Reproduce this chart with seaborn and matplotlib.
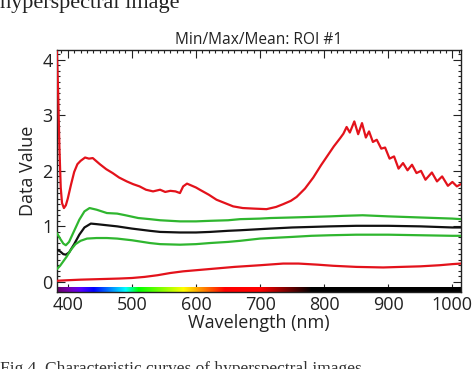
import numpy as np
import pandas as pd
import matplotlib
matplotlib.use("Agg")
import matplotlib.pyplot as plt
from matplotlib.ticker import MultipleLocator
import seaborn as sns

# ---- data ----
max_wl = [383, 385, 387, 389, 391, 394, 397, 400, 405, 410, 415, 420, 427, 433, 439, 445, 450,
          460, 470, 480, 492, 502, 512, 522, 533, 544, 552, 560, 568, 575, 580, 586, 592, 600,
          606, 620, 632, 645, 658, 673, 690, 710, 725, 736, 748, 757, 770, 783, 795, 805, 815,
          825, 830, 835, 840, 847, 853, 859, 865, 870, 876, 882, 889, 895, 902, 909, 916, 923,
          930, 937, 944, 951, 958, 968, 976, 984, 993, 1000, 1007, 1013]
max_val = [4.15, 3.4, 2.4, 1.7, 1.42, 1.33, 1.38, 1.5, 1.75, 1.98, 2.12, 2.18, 2.24, 2.22, 2.23,
           2.17, 2.12, 2.03, 1.96, 1.88, 1.81, 1.76, 1.72, 1.66, 1.63, 1.66, 1.62, 1.64, 1.63,
           1.60, 1.72, 1.77, 1.74, 1.70, 1.66, 1.57, 1.48, 1.42, 1.36, 1.33, 1.32, 1.31, 1.35,
           1.40, 1.46, 1.53, 1.68, 1.88, 2.10, 2.27, 2.44, 2.59, 2.67, 2.79, 2.69, 2.89, 2.66,
           2.86, 2.60, 2.71, 2.52, 2.56, 2.40, 2.42, 2.22, 2.26, 2.04, 2.14, 2.01, 2.11, 1.96,
           2.00, 1.84, 1.97, 1.81, 1.90, 1.73, 1.80, 1.72, 1.76]

hi_wl = [383, 388, 393, 397, 402, 410, 418, 426, 434, 445, 461, 477, 490, 510, 528, 544, 575,
         600, 622, 650, 669, 700, 716, 750, 780, 809, 830, 860, 900, 950, 1000, 1013]
hi_val = [0.88, 0.78, 0.69, 0.66, 0.72, 0.92, 1.12, 1.27, 1.33, 1.30, 1.24, 1.23, 1.20, 1.15,
          1.13, 1.11, 1.09, 1.09, 1.10, 1.11, 1.13, 1.14, 1.15, 1.16, 1.17, 1.18, 1.19, 1.20,
          1.18, 1.16, 1.14, 1.13]

mean_wl = [383, 388, 393, 397, 402, 410, 418, 426, 436, 445, 461, 477, 500, 528, 544, 575, 600,
           622, 650, 669, 700, 716, 750, 780, 809, 850, 900, 950, 1000, 1013]
mean_val = [0.58, 0.55, 0.50, 0.49, 0.53, 0.68, 0.85, 0.98, 1.05, 1.04, 1.02, 1.00, 0.96, 0.92,
            0.90, 0.89, 0.89, 0.90, 0.92, 0.93, 0.95, 0.96, 0.98, 0.99, 1.00, 1.01, 1.01, 1.00,
            0.98, 0.98]

lo_wl = [383, 388, 393, 398, 405, 412, 420, 430, 445, 461, 477, 500, 528, 544, 575, 600, 622,
         650, 669, 700, 716, 750, 780, 809, 850, 900, 950, 1000, 1013]
lo_val = [0.23, 0.29, 0.37, 0.45, 0.58, 0.68, 0.74, 0.78, 0.79, 0.79, 0.78, 0.75, 0.70, 0.68,
          0.67, 0.68, 0.70, 0.72, 0.74, 0.78, 0.79, 0.81, 0.83, 0.84, 0.85, 0.85, 0.84, 0.83, 0.83]

min_wl = [383, 400, 420, 450, 480, 500, 520, 540, 560, 580, 600, 630, 660, 700, 736, 760, 790,
          814, 850, 892, 920, 950, 980, 1000, 1013]
min_val = [0.02, 0.03, 0.04, 0.05, 0.06, 0.07, 0.09, 0.12, 0.16, 0.19, 0.21, 0.24, 0.27, 0.30,
           0.33, 0.33, 0.31, 0.29, 0.27, 0.26, 0.27, 0.28, 0.30, 0.32, 0.33]

x_ticks = [400, 500, 600, 700, 800, 900, 1000]
y_ticks = [0, 1, 2, 3, 4]

series = [("Max", max_wl, max_val), ("Mean+Std", hi_wl, hi_val), ("Mean", mean_wl, mean_val),
          ("Mean-Std", lo_wl, lo_val), ("Min", min_wl, min_val)]
frames = [pd.DataFrame({"Wavelength": w, "Value": v, "Series": n}) for n, w, v in series]
df = pd.concat(frames, ignore_index=True)

RED = "#e3121b"
GREEN = "#2fb62f"
palette = {"Max": RED, "Min": RED, "Mean+Std": GREEN, "Mean-Std": GREEN, "Mean": "#111111"}

sns.set_theme(style="white")
plt.rcParams["font.family"] = ["Open Sans", "DejaVu Sans"]

fig = plt.figure(figsize=(4.74, 3.69), dpi=100)
ax = fig.add_axes([0.120, 0.209, 0.852, 0.656])

xmin, xmax = 383, 1013
ymin, ymax = -0.18, 4.18

# spectral strip along the bottom
def wl_rgb(w):
    if w < 440:
        r, g, b = -(w - 440) / 60, 0.0, 1.0
    elif w < 490:
        r, g, b = 0.0, (w - 440) / 50, 1.0
    elif w < 510:
        r, g, b = 0.0, 1.0, -(w - 510) / 20
    elif w < 580:
        r, g, b = (w - 510) / 70, 1.0, 0.0
    elif w < 645:
        r, g, b = 1.0, -(w - 645) / 65, 0.0
    else:
        r, g, b = 1.0, 0.0, 0.0
    if w < 420:
        f = 0.35 + 0.65 * (w - 380) / 40
    elif w > 700:
        f = max(0.0, 1 - (w - 700) / 80)
    else:
        f = 1.0
    return [r * f, g * f, b * f]

wls = np.arange(xmin, xmax + 1, 1.0)
strip = np.array([wl_rgb(w) for w in wls])[None, :, :]
ax.imshow(strip, extent=[xmin, xmax, ymin, ymin + 0.09], aspect="auto", zorder=1,
          interpolation="bilinear")

sns.lineplot(data=df, x="Wavelength", y="Value", hue="Series", palette=palette,
             estimator=None, sort=False, units="Series", linewidth=1.6, legend=False,
             ax=ax, zorder=3)

ax.set_xlim(xmin, xmax)
ax.set_ylim(ymin, ymax)
ax.set_xticks(x_ticks)
ax.set_yticks(y_ticks)
ax.xaxis.set_minor_locator(MultipleLocator(10))
ax.yaxis.set_minor_locator(MultipleLocator(0.1))
ax.tick_params(which="both", direction="in", top=True, right=True, bottom=True, left=True,
               color="#222222", width=0.8)
ax.tick_params(which="major", length=5.5, labelsize=13, labelcolor="#222222", pad=3)
ax.tick_params(which="minor", length=2.5)
for s in ax.spines.values():
    s.set_color("#222222")
    s.set_linewidth(1.0)

ax.set_xlabel("Wavelength (nm)", fontsize=13, color="#222222", labelpad=0)
ax.set_ylabel("Data Value", fontsize=13, color="#222222", labelpad=4)
ax.set_title("Min/Max/Mean: ROI #1", fontsize=11.2, color="#222222", pad=4)

# surrounding caption text of the scanned page
fig.text(0.0, 1 - 8 / 369, "hyperspectral image", fontsize=16, family="Liberation Serif",
         color="#222222", va="baseline", ha="left")
fig.text(0.0, -4 / 369, "Fig.4. Characteristic curves of hyperspectral images", fontsize=12.5,
         family="Liberation Serif", color="#333333", va="baseline", ha="left")

fig.savefig("out.png", dpi=100)
